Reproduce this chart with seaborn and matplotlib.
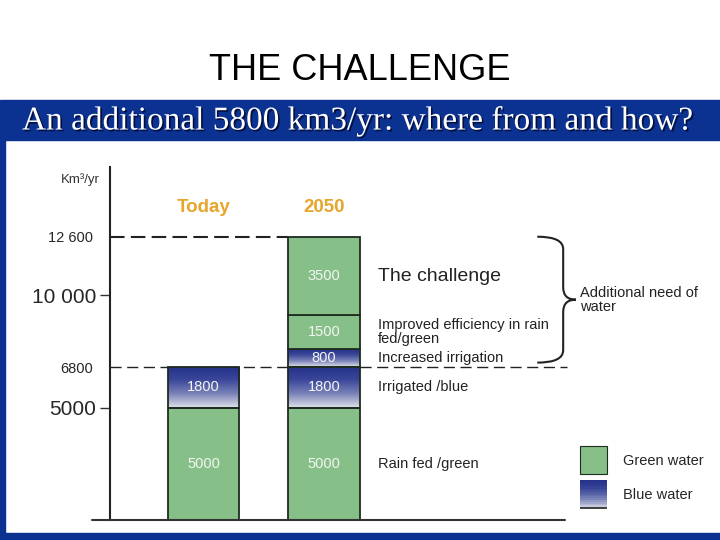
import numpy as np
import pandas as pd
import matplotlib
matplotlib.use('Agg')
import matplotlib.pyplot as plt
import matplotlib.patheffects as pe
import seaborn as sns
from matplotlib.patches import Rectangle, PathPatch, Patch
from matplotlib.path import Path
from matplotlib.colors import LinearSegmentedColormap
from matplotlib.legend_handler import HandlerBase
import matplotlib.transforms as mtransforms

# Dados do gráfico
periodos = ['Today', '2050']
componentes = ['Rain fed /green', 'Irrigated /blue', 'Increased irrigation',
               'Improved efficiency in rain\nfed/green', 'The challenge']
tipo_agua = ['green', 'blue', 'blue', 'green', 'green']
valores_today = [5000, 1800, 0, 0, 0]
valores_2050 = [5000, 1800, 800, 1500, 3500]
yticks_maiores = [5000, 10000]
yticks_maiores_labels = ['5000', '10 000']
yticks_menores = [6800, 12600]
yticks_menores_labels = ['6800', '12 600']

verde = '#87bf89'
borda = '#1e2b20'
cmap_azul = LinearSegmentedColormap.from_list(
    'azul', [(0, '#e2e2ea'), (0.35, '#7a82b8'), (0.7, '#3a4698'), (1, '#24318a')])
laranja = '#e6a52c'
azul_faixa = '#0b3290'

sns.set_style('white')
plt.rcParams['font.family'] = ['Liberation Sans', 'DejaVu Sans']

fig = plt.figure(figsize=(7.2, 5.4), dpi=100)
fig.patch.set_facecolor('white')

# moldura azul
fig.patches.append(Rectangle((0, 400 / 540), 1, 40 / 540, transform=fig.transFigure,
                             color=azul_faixa, zorder=0))
fig.patches.append(Rectangle((0, 0), 5 / 720, 400 / 540, transform=fig.transFigure,
                             color=azul_faixa, zorder=0))
fig.patches.append(Rectangle((0, 0), 1, 7 / 540, transform=fig.transFigure,
                             color=azul_faixa, zorder=0))

fig.text(0.5, (540 - 70) / 540, 'THE CHALLENGE', ha='center', va='center',
         fontsize=26, family=['Liberation Sans', 'DejaVu Sans'], color='black')
fig.text(22 / 720, (540 - 121) / 540, 'An additional 5800 km3/yr: where from and how?',
         ha='left', va='center', fontsize=24, family=['Liberation Serif', 'DejaVu Serif'],
         color='white',
         path_effects=[pe.withSimplePatchShadow(offset=(1.2, -1.2),
                                                shadow_rgbFace='#000018', alpha=0.7)])

ax = fig.add_axes([110 / 720, 20 / 540, 605 / 720, 353 / 540])
ax.set_facecolor('none')

largura = 0.59
df = pd.DataFrame({
    'periodo': np.repeat(periodos, len(componentes)),
    'componente': componentes * 2,
    'tipo': tipo_agua * 2,
    'valor': valores_today + valores_2050,
})

for periodo in periodos:
    sub = df[(df['periodo'] == periodo) & (df['valor'] > 0)]
    base = 0
    for _, linha in sub.iterrows():
        cor = verde if linha['tipo'] == 'green' else '#4a55a0'
        sns.barplot(x=[periodo], y=[linha['valor']], order=periodos, bottom=base,
                    width=largura, color=cor, saturation=1, errorbar=None,
                    edgecolor=borda, linewidth=1.3, ax=ax)
        barra = ax.patches[-1]
        xc = barra.get_x() + barra.get_width() / 2
        if linha['tipo'] == 'blue':
            barra.set_facecolor('none')
            im = ax.imshow(np.linspace(0, 1, 256).reshape(-1, 1), cmap=cmap_azul,
                           origin='lower', aspect='auto', zorder=0.9,
                           extent=[barra.get_x(), barra.get_x() + barra.get_width(),
                                   base, base + linha['valor']])
            im.set_clip_path(barra)
        ax.text(xc, base + linha['valor'] / 2, f"{linha['valor']}", ha='center',
                va='center', color='#f2f6f2', fontsize=10.5, zorder=3)
        if periodo == '2050':
            tam = 14 if linha['componente'] == 'The challenge' else 10.5
            ax.text(xc + 0.45, base + linha['valor'] / 2, linha['componente'],
                    ha='left', va='center', fontsize=tam, color='#222222',
                    linespacing=1.0, zorder=3)
        base += linha['valor']

total_today = sum(valores_today)
total_2050 = sum(valores_2050)

ax.set_xlim(-0.776, 4.245)
ax.set_ylim(0, 15700)
ax.set_xticks([])
ax.set_xlabel('')
ax.set_ylabel('')

# linhas tracejadas
ax.hlines(total_2050, -0.776, 1 - largura / 2, colors='#222222', linewidth=1.5,
          linestyles=(0, (7, 3)), zorder=0.5)
ax.hlines(total_today, -0.776, 3.02, colors='#222222', linewidth=1.0,
          linestyles=(0, (8, 4)), zorder=0.5)

# eixo y
ax.set_yticks(yticks_maiores)
ax.set_yticklabels(yticks_maiores_labels, fontsize=15)
ax.set_yticks(yticks_menores, minor=True)
ax.set_yticklabels(yticks_menores_labels, minor=True, fontsize=10.5)
ax.tick_params(axis='y', which='major', length=7, width=1, color='#333333',
               left=True, pad=3)
ax.tick_params(axis='y', which='minor', length=0, left=True, pad=12)
for s in ['top', 'right', 'bottom']:
    ax.spines[s].set_visible(False)
ax.spines['left'].set_color('#222222')
ax.spines['left'].set_linewidth(1.5)
ax.axhline(0, xmin=-18 / 605, xmax=455 / 605, color='#333333', linewidth=1.5,
           clip_on=False, zorder=4)

ax.text(-30 / 605, 0.963, 'Km³/yr', transform=ax.transAxes, ha='center', va='center',
        fontsize=9.5, color='#333333')

# rótulos dos períodos
trans = mtransforms.blended_transform_factory(ax.transData, ax.transAxes)
for i, periodo in enumerate(periodos):
    ax.text(i, 0.885, periodo, transform=trans, ha='center', va='center',
            fontsize=13.5, fontweight='bold', color=laranja)

# chave
x0, xv, xt = 2.77, 2.985, 3.09
ytop, ybot = total_2050, total_today + 200
ymid = (ytop + ybot) / 2
r = 550
verts = [(x0, ytop), (xv, ytop), (xv, ytop - r), (xv, ymid + r), (xv, ymid), (xt, ymid),
         (xv, ymid), (xv, ymid - r), (xv, ybot + r), (xv, ybot), (x0, ybot)]
codes = [Path.MOVETO, Path.CURVE3, Path.CURVE3, Path.LINETO, Path.CURVE3, Path.CURVE3,
         Path.CURVE3, Path.CURVE3, Path.LINETO, Path.CURVE3, Path.CURVE3]
ax.add_patch(PathPatch(Path(verts, codes), fill=False, edgecolor='#222222',
                       linewidth=1.5, clip_on=False))
ax.text(3.125, ymid, 'Additional need of\nwater', ha='left', va='center',
        fontsize=10.5, color='#222222', linespacing=1.0)


class HandlerGradiente(HandlerBase):
    def create_artists(self, legend, orig_handle, xdescent, ydescent, width,
                       height, fontsize, trans):
        n = 16
        artistas = []
        for i in range(n):
            artistas.append(Rectangle((-xdescent, -ydescent + i * height / n), width,
                                      height / n, facecolor=cmap_azul((i + 0.5) / n),
                                      edgecolor='none', transform=trans))
        artistas.append(Rectangle((-xdescent, -ydescent), width, height * 0.06,
                                  facecolor='#444444', edgecolor='none', transform=trans))
        return artistas


h_verde = Patch(facecolor=verde, edgecolor=borda, linewidth=0.8)
h_azul = Patch(facecolor='#4a55a0')
ax.legend([h_verde, h_azul], ['Green water', 'Blue water'],
          handler_map={h_azul: HandlerGradiente()},
          loc='lower left', bbox_to_anchor=(580 / 720, 31 / 540),
          bbox_transform=fig.transFigure, frameon=False, fontsize=10.5,
          handlelength=1.85, handleheight=2.65, labelspacing=0.4, handletextpad=1.1,
          borderpad=0, borderaxespad=0)

fig.savefig('out.png', dpi=100)
